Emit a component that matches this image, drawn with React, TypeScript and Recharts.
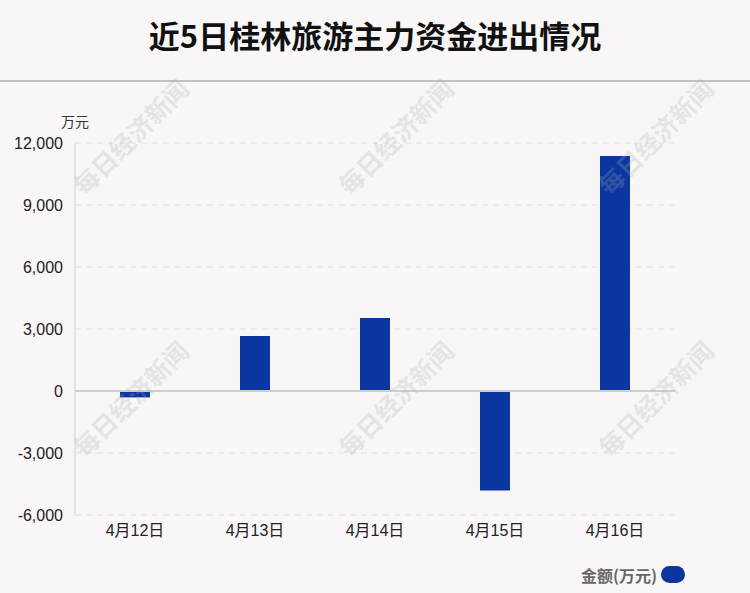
import { BarChart, Bar, XAxis, YAxis, CartesianGrid, ReferenceLine } from "recharts";

const dates = ["4月12日", "4月13日", "4月14日", "4月15日", "4月16日"];
const amounts = [-310, 2660, 3530, -4820, 11370];
const yTicks = [-6000, -3000, 0, 3000, 6000, 9000, 12000];

const data = dates.map((d, i) => ({ name: d, value: amounts[i] }));

const watermarkSpots = [
  [130, 133], [395, 133], [655, 133],
  [130, 395], [395, 395], [655, 395],
];

const font = '"Liberation Sans", Arial, "Noto Sans CJK SC", sans-serif';

export default function App() {
  return (
    <div
      style={{
        position: "fixed",
        left: 0,
        top: 0,
        width: 750,
        height: 593,
        background: "#f9f6f7",
        fontFamily: font,
        overflow: "hidden",
      }}
    >
      <div
        style={{
          position: "absolute",
          top: 12,
          width: 750,
          textAlign: "center",
          fontSize: 31,
          fontWeight: "bold",
          color: "#111",
          fontFamily: '"Noto Sans CJK SC", sans-serif',
        }}
      >
        近5日桂林旅游主力资金进出情况
      </div>
      <div style={{ position: "absolute", top: 80, left: 0, width: 750, height: 2, background: "#c4c2c3" }} />
      <div style={{ position: "absolute", top: 111, left: 61, fontSize: 14, color: "#333" }}>万元</div>

      <div style={{ position: "absolute", left: 0, top: 0 }}>
        <BarChart
          width={750}
          height={593}
          data={data}
          margin={{ top: 143, right: 75, bottom: 48, left: 10 }}
          barSize={30}
        >
          <CartesianGrid vertical={false} stroke="#e2dfe0" strokeDasharray="6 5" />
          <XAxis
            dataKey="name"
            axisLine={false}
            tickLine={false}
            tickSize={0}
            tickMargin={10}
            tick={{ fill: "#222", fontSize: 16, fontFamily: font }}
          />
          <YAxis
            width={65}
            domain={[-6000, 12000]}
            ticks={yTicks}
            allowDataOverflow
            axisLine={{ stroke: "#d4d1d2" }}
            tickLine={false}
            tickSize={0}
            tickMargin={12}
            tickFormatter={(v: number) => v.toLocaleString("en-US")}
            tick={{ fill: "#222", fontSize: 16, fontFamily: font }}
          />
          <Bar dataKey="value" fill="#0b36a0" isAnimationActive={false} />
          <ReferenceLine y={0} stroke="#d0cdce" strokeWidth={2} ifOverflow="extendDomain" />
        </BarChart>
      </div>

      {watermarkSpots.map(([x, y], i) => (
        <div
          key={i}
          style={{
            position: "absolute",
            left: x - 90,
            top: y - 15,
            width: 180,
            textAlign: "center",
            fontSize: 25,
            fontWeight: "bold",
            color: "rgba(170,170,170,0.25)",
            transform: "rotate(-45deg)",
            fontFamily: '"Noto Sans CJK SC", sans-serif',
            pointerEvents: "none",
            whiteSpace: "nowrap",
          }}
        >
          每日经济新闻
        </div>
      ))}

      <div
        style={{
          position: "absolute",
          left: 581,
          top: 563,
          fontSize: 16,
          fontWeight: "bold",
          color: "#666",
          fontFamily: '"Noto Sans CJK SC", sans-serif',
        }}
      >
        金额(万元)
      </div>
      <div
        style={{
          position: "absolute",
          left: 661,
          top: 566,
          width: 24,
          height: 17,
          borderRadius: 9,
          background: "#0b36a0",
        }}
      />
    </div>
  );
}
